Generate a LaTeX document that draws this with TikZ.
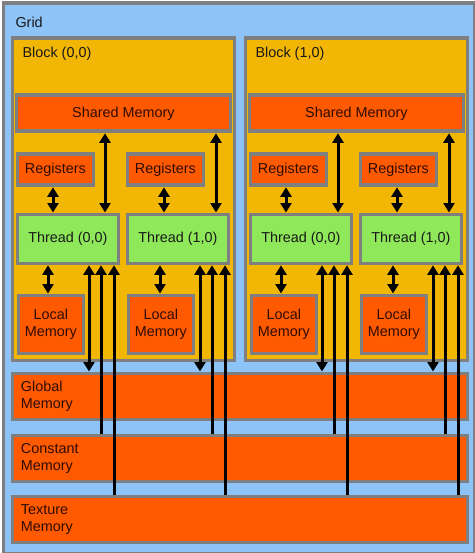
\documentclass[tikz,border=0pt]{standalone}
\usepackage{fontspec}
\setmainfont{Liberation Sans}
\usepackage{xcolor}
\usetikzlibrary{arrows.meta,calc}

\definecolor{gridblue}{HTML}{8DC3F7}
\definecolor{blockgold}{HTML}{F2B705}
\definecolor{memorange}{HTML}{FF5A00}
\definecolor{threadgreen}{HTML}{8EE85A}
\definecolor{edgegray}{HTML}{7F7F7F}
\definecolor{memtext}{HTML}{2E0C00}

\tikzset{
    box/.style={draw=edgegray, line width=3.8pt, inner sep=0pt, anchor=north west,
        font=\fontsize{14.4}{17}\selectfont},
    memory/.style={box, fill=memorange, text=memtext, align=center},
    regs/.style={memory, minimum width=76pt, minimum height=31pt},
    localmem/.style={memory, minimum width=65pt, minimum height=58pt},
    thread/.style={box, fill=threadgreen, text=black!90, minimum width=101pt, minimum height=49pt},
    bigmem/.style={memory, minimum width=455pt, minimum height=46pt, inner xsep=8.5pt,
        text width=438pt, align=left},
    dbl/.style={line width=3pt, {Triangle[width=11pt,length=9.5pt]}-{Triangle[width=11pt,length=9.5pt]}},
    onearrow/.style={line width=3pt, -{Triangle[width=11pt,length=9.5pt]}},
    label/.style={anchor=west, font=\fontsize{14.4}{17}\selectfont, text=black!90}
}

\begin{document}
\begin{tikzpicture}[x=1pt, y=-1pt]
    \useasboundingbox (0,0) rectangle (474,553);
    % the grid and its two blocks
    \node[box, fill=gridblue, minimum width=471pt, minimum height=550pt] (grid) at (1.5,1.5) {};
    \node[label] (gridname) at (12,22) {Grid};
    \node[box, fill=blockgold, minimum width=222pt, minimum height=322pt] (blk0) at (10.5,36.5) {};
    \node[box, fill=blockgold, minimum width=222pt, minimum height=322pt] (blk1) at (243.5,36.5) {};
    \node[label] (blk0name) at (19,54) {Block (0,0)};
    \node[label] (blk1name) at (252,54) {Block (1,0)};

    % Block (0,0)
    \node[memory, minimum width=214pt, minimum height=36pt] (sm0) at (14.5,93.5) {Shared Memory};
    \node[regs] (reg00) at (15.5,152.5) {Registers};
    \node[regs] (reg10) at (125.5,152.5) {Registers};
    \node[thread] (thr00) at (15.5,212.5) {Thread (0,0)};
    \node[thread] (thr10) at (125.5,212.5) {Thread (1,0)};
    \node[localmem] (loc00) at (16.5,293.5) {Local\\Memory};
    \node[localmem] (loc10) at (126.5,293.5) {Local\\Memory};

    % Block (1,0)
    \node[memory, minimum width=214pt, minimum height=36pt] (sm1) at (247.5,93.5) {Shared Memory};
    \node[regs] (reg01) at (248.5,152.5) {Registers};
    \node[regs] (reg11) at (358.5,152.5) {Registers};
    \node[thread] (thr01) at (248.5,212.5) {Thread (0,0)};
    \node[thread] (thr11) at (358.5,212.5) {Thread (1,0)};
    \node[localmem] (loc01) at (249.5,293.5) {Local\\Memory};
    \node[localmem] (loc11) at (359.5,293.5) {Local\\Memory};

    % device memories
    \node[bigmem] (glob) at (10.5,371.5) {Global\\Memory};
    \node[bigmem] (const) at (10.5,433.5) {Constant\\Memory};
    \node[bigmem] (tex) at (10.5,494.5) {Texture\\Memory};

    % arrows, block (0,0)
    \draw[dbl] (105,0 |- sm0.south) -- (105,0 |- thr00.north);
    \draw[dbl] (216,0 |- sm0.south) -- (216,0 |- thr10.north);
    \draw[dbl] (53,0 |- reg00.south) -- (53,0 |- thr00.north);
    \draw[dbl] (164,0 |- reg10.south) -- (164,0 |- thr10.north);
    \draw[dbl] (48,0 |- thr00.south) -- (48,0 |- loc00.north);
    \draw[dbl] (160,0 |- thr10.south) -- (160,0 |- loc10.north);
    \draw[dbl] (89,0 |- thr00.south) -- (89,0 |- glob.north);
    \draw[dbl] (200,0 |- thr10.south) -- (200,0 |- glob.north);
    \draw[onearrow] (101,0 |- const.north) -- (101,0 |- thr00.south);
    \draw[onearrow] (212,0 |- const.north) -- (212,0 |- thr10.south);
    \draw[onearrow] (114,0 |- tex.north) -- (114,0 |- thr00.south);
    \draw[onearrow] (225,0 |- tex.north) -- (225,0 |- thr10.south);

    % arrows, block (1,0)
    \draw[dbl] (338,0 |- sm1.south) -- (338,0 |- thr01.north);
    \draw[dbl] (449,0 |- sm1.south) -- (449,0 |- thr11.north);
    \draw[dbl] (286,0 |- reg01.south) -- (286,0 |- thr01.north);
    \draw[dbl] (397,0 |- reg11.south) -- (397,0 |- thr11.north);
    \draw[dbl] (281,0 |- thr01.south) -- (281,0 |- loc01.north);
    \draw[dbl] (393,0 |- thr11.south) -- (393,0 |- loc11.north);
    \draw[dbl] (322,0 |- thr01.south) -- (322,0 |- glob.north);
    \draw[dbl] (433,0 |- thr11.south) -- (433,0 |- glob.north);
    \draw[onearrow] (334,0 |- const.north) -- (334,0 |- thr01.south);
    \draw[onearrow] (445,0 |- const.north) -- (445,0 |- thr11.south);
    \draw[onearrow] (347,0 |- tex.north) -- (347,0 |- thr01.south);
    \draw[onearrow] (458,0 |- tex.north) -- (458,0 |- thr11.south);
\end{tikzpicture}
\end{document}
